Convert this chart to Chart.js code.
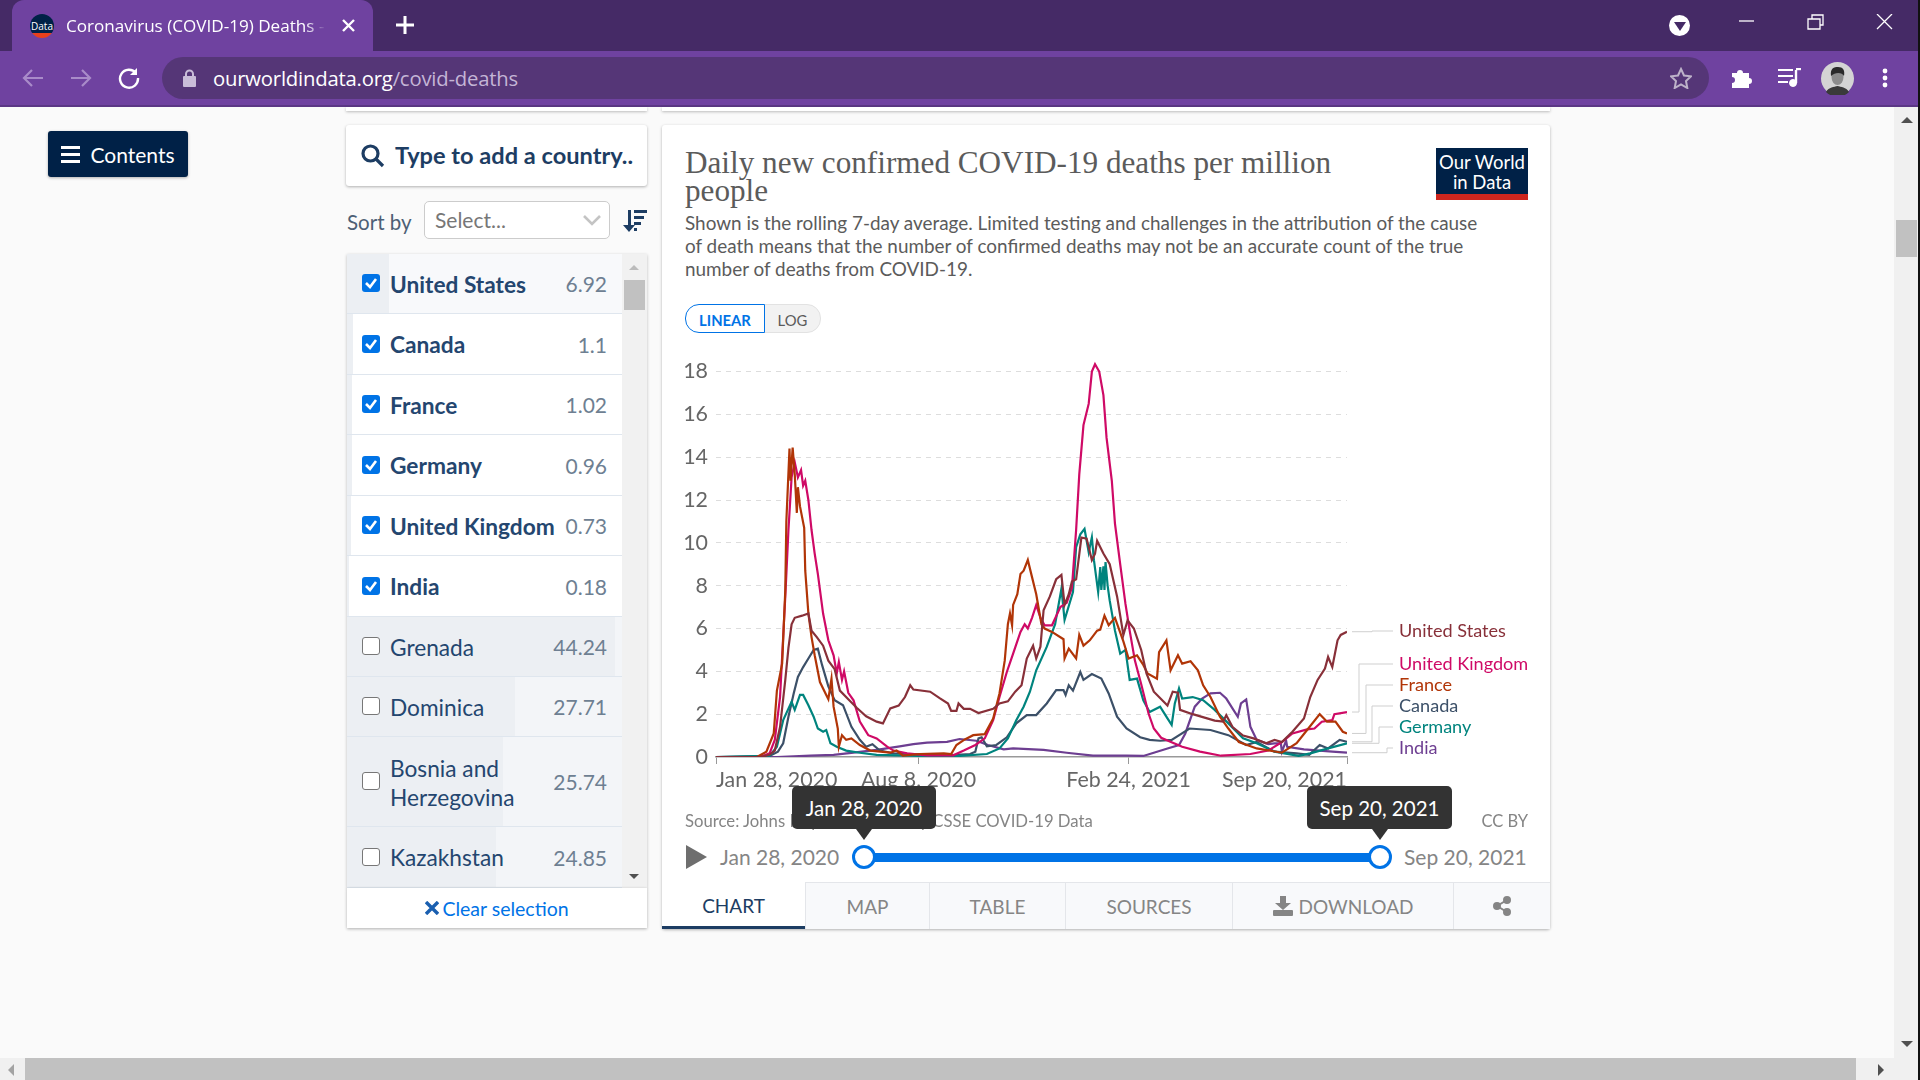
<!DOCTYPE html>
<html lang="en">
<head>
<meta charset="UTF-8">
<title>Daily new confirmed COVID-19 deaths per million people</title>
<script src="https://cdn.jsdelivr.net/npm/chart.js"></script>
<style>
html, body { margin: 0; padding: 0; width: 1920px; height: 1080px; overflow: hidden; background: #fafafa; font-family: Lato, sans-serif; }
.a { position: absolute; white-space: nowrap; }
.ctr { display: flex; align-items: center; justify-content: center; }
.row { position: absolute; left: 347px; width: 275px; border-bottom: 1px solid #dfe6ee; box-sizing: border-box; overflow: hidden; }
.row .bar { position: absolute; left: 0; top: 0; bottom: 0; }
.row .name { position: absolute; left: 43px; font-size: 22.7px; line-height: 29px; color: #24466f; white-space: normal; width: 150px; }
.row .val { position: absolute; right: 15px; font-size: 21px; color: #6e7f92; }
.row .box { position: absolute; left: 15px; width: 18px; height: 18px; border-radius: 3px; box-sizing: border-box; }
.tab { position: absolute; top: 882px; height: 47px; box-sizing: border-box; background: #f8f9fb; border-left: 1px solid #e4e6ea; border-top: 1px solid #e4e6ea; font-size: 19px; color: #858585; display: flex; align-items: center; justify-content: center; gap: 6px; }
.tip { position: absolute; top: 786px; height: 43px; background: #333; border-radius: 5px; color: #fff; font-size: 20.5px; display: flex; align-items: center; justify-content: center; z-index: 5; }
.tip:after { content: ""; position: absolute; bottom: -11px; left: 50%; margin-left: -8px; border-left: 8px solid transparent; border-right: 8px solid transparent; border-top: 11px solid #333; }
.knob { position: absolute; top: 845px; width: 24px; height: 24px; box-sizing: border-box; border-radius: 50%; background: #fff; border: 3px solid #0073e6; z-index: 6; }
</style>
</head>
<body>
<!-- browser window -->
<div class="a" style="left:0;top:0;width:1920px;height:51px;background:#452a66"></div>
<div class="a" style="left:0;top:51px;width:1920px;height:54px;background:#6f42a0"></div>
<div class="a" style="left:0;top:105px;width:1920px;height:2px;background:#5b3785"></div>
<div class="a" style="left:12px;top:0;width:361px;height:51px;background:#6f42a0;border-radius:12px 12px 0 0"></div>
<div class="a ctr" style="left:30px;top:14px;width:24px;height:24px;border-radius:50%;background:linear-gradient(#002147 78%,#e8401c 78%);color:#fff;font-size:10px;font-family:'Open Sans'">Data</div>
<div class="a" style="left:66px;top:14px;width:260px;overflow:hidden;color:#fff;font:17.1px/24px 'Open Sans';-webkit-mask-image:linear-gradient(90deg,#000 92%,transparent 100%)">Coronavirus (COVID-19) Deaths -</div>
<svg class="a" style="left:342px;top:19px" width="13" height="13" stroke="#fff" stroke-width="2.4"><path d="M1 1L12 12M12 1L1 12"/></svg>
<svg class="a" style="left:396px;top:16px" width="18" height="18" stroke="#fff" stroke-width="3"><path d="M9 0V18M0 9H18"/></svg>
<svg class="a" style="left:22px;top:67px" width="70" height="22" fill="none" stroke="#a98bc9" stroke-width="2.2"><path d="M21 11H2M10 3L2 11L10 19"/><path d="M49 11H68M60 3L68 11L60 19"/></svg>
<svg class="a" style="left:118px;top:67px" width="22" height="22" fill="none" stroke="#fff" stroke-width="2.4"><path d="M18 6A9 9 0 1 0 20 11"/><path d="M19 1V8H12" fill="#fff" stroke="none"/></svg>
<div class="a" style="left:162px;top:57px;width:1547px;height:42px;border-radius:21px;background:#553677"></div>
<svg class="a" style="left:183px;top:69px" width="13" height="18" fill="#c9bdd8"><rect y="7" width="13" height="11" rx="1"/><path d="M3 8V5a3.5 3.5 0 0 1 7 0V8" fill="none" stroke="#c9bdd8" stroke-width="2"/></svg>
<div class="a" style="left:213px;top:64px;font:20.3px/28px 'Open Sans';color:#fff;letter-spacing:-.2px">ourworldindata.org<span style="color:#c4b5d6">/covid-deaths</span></div>
<svg class="a" style="left:1670px;top:67px" width="22" height="22" fill="none" stroke="#bdb2c9" stroke-width="2"><path d="M11 2L14 8.5L21 9.3L16 14L17.3 21L11 17.5L4.7 21L6 14L1 9.3L8 8.5Z"/></svg>
<div class="a" style="left:1669px;top:15px;width:21px;height:21px;border-radius:50%;background:#fff"></div>
<div class="a" style="left:1674px;top:22px;border-left:6px solid transparent;border-right:6px solid transparent;border-top:9px solid #452a66"></div>
<svg class="a" style="left:1738px;top:14px" width="160" height="16" fill="none" stroke="#fff" stroke-width="1.3"><path d="M1 7H16"/><path d="M70 5H82V15H70ZM74 5V1H85V11H82"/><path d="M139 0L154 15M154 0L139 15"/></svg>
<svg class="a" style="left:1731px;top:66px" width="22" height="22" fill="#fff"><path d="M1 7H6a3 3 0 1 1 6 0H18V12a3 3 0 1 1 0 6V22H1V17a3 3 0 1 0 0-6Z"/></svg>
<svg class="a" style="left:1778px;top:68px" width="24" height="20" fill="#fff" stroke="#fff"><path d="M0 2H15M0 8H15M0 14H10" stroke-width="2.2"/><path d="M18 2V15" stroke-width="2.4"/><path d="M18 1H23" stroke-width="2.4"/><circle cx="15" cy="15" r="3.5"/></svg>
<svg class="a" style="left:1821px;top:62px" width="33" height="33"><circle cx="16.5" cy="16.5" r="16.5" fill="#d4d4d4"/><path d="M5 30C8 25 13 25 16.5 24C20 25 25 25 28 30A16.5 16.5 0 0 1 5 30Z" fill="#3a3a3a"/><ellipse cx="16.5" cy="15" rx="6" ry="8" fill="#8c8c8c"/><path d="M10 14C9 6 13 5 17 5C22 5 24 8 23 14C21 10 14 10 10 14Z" fill="#2b2b2b"/></svg>
<svg class="a" style="left:1880px;top:68px" width="10" height="20" fill="#fff"><circle cx="5" cy="3" r="2.4"/><circle cx="5" cy="10" r="2.4"/><circle cx="5" cy="17" r="2.4"/></svg>

<!-- page scrollbars -->
<div class="a" style="left:1894px;top:107px;width:24px;height:951px;background:#f0f0f0"></div>
<div class="a" style="left:1896px;top:220px;width:21px;height:37px;background:#c1c1c1"></div>
<div class="a" style="left:1918px;top:0;width:2px;height:1080px;background:#111"></div>
<div class="a" style="left:1901px;top:117px;border-left:6px solid transparent;border-right:6px solid transparent;border-bottom:6px solid #505050"></div>
<div class="a" style="left:1901px;top:1041px;border-left:6px solid transparent;border-right:6px solid transparent;border-top:6px solid #505050"></div>
<div class="a" style="left:0;top:1058px;width:1918px;height:22px;background:#f0f0f0"></div>
<div class="a" style="left:25px;top:1058px;width:1831px;height:22px;background:#c1c1c1"></div>
<div class="a" style="left:8px;top:1064px;border-top:6px solid transparent;border-bottom:6px solid transparent;border-right:6px solid #a3a3a3"></div>
<div class="a" style="left:1878px;top:1064px;border-top:6px solid transparent;border-bottom:6px solid transparent;border-left:6px solid #505050"></div>

<!-- sidebar -->
<div class="a ctr" style="left:48px;top:131px;width:140px;height:46px;background:#002147;color:#fff;font-size:21px;border-radius:3px;box-shadow:0 1px 3px rgba(0,0,0,.3);gap:10px"><svg width="19" height="17" fill="#fff"><rect width="19" height="3"/><rect y="7" width="19" height="3"/><rect y="14" width="19" height="3"/></svg>Contents</div>
<div class="a" style="left:346px;top:107px;width:301px;height:4px;background:#fff;box-shadow:0 1px 3px rgba(0,0,0,.25)"></div>
<div class="a" style="left:662px;top:107px;width:888px;height:4px;background:#fff;box-shadow:0 1px 3px rgba(0,0,0,.25)"></div>
<div class="a" style="left:346px;top:125px;width:301px;height:61px;background:#fff;border-radius:3px;box-shadow:0 1px 3px rgba(0,0,0,.3)"></div>
<svg class="a" style="left:361px;top:144px" width="24" height="24" fill="none" stroke="#1d3d63" stroke-width="3.2"><circle cx="9.5" cy="9.5" r="7.5"/><path d="M15 15L22 22"/></svg>
<div class="a" style="left:395px;top:139px;font-size:23.6px;line-height:32px;font-weight:700;color:#1d3d63">Type to add a country..</div>
<div class="a" style="left:347px;top:209px;font-size:20.5px;line-height:26px;color:#4d5f75">Sort by</div>
<div class="a" style="left:424px;top:201px;width:186px;height:38px;box-sizing:border-box;border:1px solid #ccc;border-radius:5px;background:#fff;font-size:21px;line-height:36px;color:#777;padding-left:10px">Select...</div>
<svg class="a" style="left:583px;top:215px" width="18" height="11" fill="none" stroke="#c4c4c4" stroke-width="2.6"><path d="M1 1L9 9L17 1"/></svg>
<svg class="a" style="left:623px;top:208px" width="25" height="24" fill="#1d3d63"><path d="M5 2V17H0L6 24L12 17H8V2Z"/><rect x="11" y="2" width="13" height="3"/><rect x="11" y="8" width="10" height="3"/><rect x="11" y="14" width="7" height="3"/><rect x="11" y="20" width="3" height="3"/></svg>

<div class="a" style="left:347px;top:254px;width:300px;height:634px;background:#fff;box-shadow:0 1px 3px rgba(0,0,0,.25)"></div>
<div id="rows"></div>
<div class="a" style="left:622px;top:254px;width:25px;height:634px;background:#f1f1f1"></div>
<div class="a" style="left:624px;top:280px;width:21px;height:30px;background:#c1c1c1"></div>
<div class="a" style="left:629px;top:265px;border-left:5px solid transparent;border-right:5px solid transparent;border-bottom:5px solid #bbb"></div>
<div class="a" style="left:629px;top:874px;border-left:5px solid transparent;border-right:5px solid transparent;border-top:5px solid #505050"></div>
<div class="a ctr" style="left:347px;top:888px;width:300px;height:40px;background:#fff;box-shadow:0 1px 3px rgba(0,0,0,.3);font-size:19.5px;color:#0073e6;gap:3px"><svg width="14" height="14" stroke="#1a5fb0" stroke-width="3.4"><path d="M1 1L13 13M13 1L1 13"/></svg>Clear selection</div>

<!-- chart card -->
<div class="a" style="left:662px;top:125px;width:888px;height:804px;background:#fff;border-radius:3px;box-shadow:0 1px 3px rgba(0,0,0,.3)"></div>
<div class="a" style="left:685px;top:149px;font:31.2px/28px 'Liberation Serif',serif;color:#5b5b5b">Daily new confirmed COVID-19 deaths per million<br>people</div>
<div class="a" style="left:685px;top:211px;font-size:18.9px;line-height:23px;color:#5b5b5b">Shown is the rolling 7-day average. Limited testing and challenges in the attribution of the cause<br>of death means that the number of confirmed deaths may not be an accurate count of the true<br>number of deaths from COVID-19.</div>
<div class="a" style="left:1436px;top:148px;width:92px;height:46px;background:#002147;border-bottom:6px solid #ce261e;color:#fff;font-size:18.5px;line-height:20px;text-align:center"><div style="padding-top:4px">Our World<br>in Data</div></div>
<div class="a ctr" style="left:685px;top:304px;width:80px;height:29px;box-sizing:border-box;border:1px solid #0073e6;border-radius:14px 0 0 14px;background:#fff;color:#0073e6;font-size:14.8px;font-weight:700;padding-top:2px;z-index:2">LINEAR</div>
<div class="a ctr" style="left:764px;top:304px;width:57px;height:29px;box-sizing:border-box;border:1px solid #e2e2e2;border-radius:0 14px 14px 0;background:#f2f2f2;color:#5b5b5b;font-size:14.8px;padding-top:2px">LOG</div>

<canvas id="deathsChart" class="a" style="left:670px;top:340px"></canvas>

<div class="a" style="left:685px;top:810px;font-size:16.7px;line-height:22px;color:#858585">Source: Johns Hopkins University CSSE COVID-19 Data</div>
<div class="a" style="right:392px;top:810px;font-size:16.5px;line-height:22px;color:#858585">CC BY</div>
<div class="tip" style="left:792px;width:144px">Jan 28, 2020</div>
<div class="tip" style="left:1307px;width:145px">Sep 20, 2021</div>
<div class="a" style="left:686px;top:845px;border-top:12px solid transparent;border-bottom:12px solid transparent;border-left:21px solid #6e6e6e"></div>
<div class="a" style="left:720px;top:844px;font-size:21px;line-height:26px;color:#858585">Jan 28, 2020</div>
<div class="a" style="left:864px;top:853px;width:516px;height:9px;background:#0073e6"></div>
<div class="knob" style="left:852px"></div>
<div class="knob" style="left:1368px"></div>
<div class="a" style="left:1404px;top:844px;font-size:21px;line-height:26px;color:#858585">Sep 20, 2021</div>

<div class="a ctr" style="left:662px;top:882px;width:143px;height:47px;box-sizing:border-box;background:#fff;border-bottom:3px solid #1d3d63;font-size:19px;color:#1d3d63;padding-top:3px">CHART</div>
<div class="tab" style="left:805px;width:124px">MAP</div>
<div class="tab" style="left:929px;width:136px">TABLE</div>
<div class="tab" style="left:1065px;width:167px">SOURCES</div>
<div class="tab" style="left:1232px;width:221px"><svg width="20" height="20" fill="#858585"><path d="M7 0H13V7H18L10 14L2 7H7Z"/><rect y="14" width="20" height="6" rx="1"/></svg>DOWNLOAD</div>
<div class="tab" style="left:1453px;width:97px"><svg width="18" height="20" fill="#858585" stroke="#858585" stroke-width="2"><circle cx="14" cy="4" r="3"/><circle cx="4" cy="10" r="3"/><circle cx="14" cy="16" r="3"/><path d="M14 4L4 10L14 16" fill="none"/></svg></div>

<script>
// sidebar list
const countryNames = ['United States', 'Canada', 'France', 'Germany', 'United Kingdom', 'India', 'Grenada', 'Dominica', 'Bosnia and Herzegovina', 'Kazakhstan'];
const countryValues = ['6.92', '1.1', '1.02', '0.96', '0.73', '0.18', '44.24', '27.71', '25.74', '24.85'];
const countryBars = [42, 6, 5, 5, 4, 2, 268, 168, 156, 149];
const rowTops = [254, 314, 375, 435, 496, 556, 617, 677, 737, 827, 888];

// chart data
const tickDays = [0, 193, 393, 601];
const tickLabels = ['Jan 28, 2020', 'Aug 8, 2020', 'Feb 24, 2021', 'Sep 20, 2021'];
const yTicks = [0, 2, 4, 6, 8, 10, 12, 14, 16, 18];

const usDays = [0,42,51,56,61,66,69,72,75,82,88,91,96,102,107,113,118,126,134,143,153,159,166,174,180,185,188,204,213,221,224,229,231,236,242,250,264,270,278,285,291,296,302,305,309,312,318,324,329,332,336,339,343,348,353,358,361,363,369,375,382,388,392,398,405,410,417,430,435,440,442,454,475,483,486,492,502,512,524,532,539,549,560,566,573,580,583,587,592,595,601];
const usValues = [0,0,.1,.3,1.4,3.6,5.1,6.2,6.5,6.6,6.7,5.9,5.6,5.2,4.5,4.1,3.1,2.7,2.3,1.9,1.65,1.57,2.27,2.4,2.8,3.35,3.15,3.05,2.75,2.5,2.15,2.15,2.5,2.25,2.25,2.05,2.25,2.5,2.6,3.05,3.35,4.6,5.2,4.6,5.15,6.85,7.5,8.3,8.5,7.1,7.6,8.2,8.3,10.25,10.2,9.2,9.5,10.1,9.5,9,7.5,5.7,6.38,6,5,3.9,3.05,2.4,3.05,3,2.2,2,1.7,1.65,1.95,1.4,1,.87,.64,.8,.7,1.18,1.8,2.8,3.6,4.13,4.67,4.2,5.45,5.7,5.85];

const ukDays = [0,42,51,56,61,66,69,72,75,78,81,83,85,88,91,94,97,102,107,112,115,117,120,122,126,131,137,145,153,163,169,182,201,226,236,247,256,264,270,277,283,290,294,297,301,305,309,313,320,328,334,339,343,346,350,355,358,361,365,369,372,377,380,385,390,394,399,405,412,417,424,444,461,481,509,526,539,549,563,570,577,587,589,601];
const ukValues = [0,0,.17,.8,2.8,7.5,10.6,13.06,13.76,13.06,13.4,12.67,12.9,12,10.6,9.5,8.55,6.7,5.45,4.75,3.9,4.44,3.6,4,3,2.65,1.65,1.02,.87,.48,.3,.17,.08,.08,.3,.56,.87,1.72,2.8,3.97,4.83,5.84,6.2,6,6.5,7.1,6.5,6.15,6.15,7,7.2,7.9,10.6,13.2,15.5,16.5,18,18.34,18,16.9,14.9,12.9,10.9,9,7.15,5.9,4.5,3.4,2.03,1.33,.9,.48,.25,.06,.14,.3,.7,1.1,1.29,1.33,1.65,1.72,2,2.1];

const franceDays = [0,39,48,55,58,63,66,67,70,71,73,75,77,78,80,84,85,88,91,94,99,105,107,110,112,116,117,120,124,129,137,147,166,172,178,194,217,224,229,237,245,256,264,270,275,278,280,282,283,287,290,293,297,301,305,310,313,320,331,332,336,343,346,350,356,363,366,370,374,380,388,393,401,407,411,420,422,429,433,440,444,452,459,464,471,480,488,498,515,539,553,563,575,582,590,597,601];
const franceValues = [0,0,.25,1.1,3.1,4.36,7.8,11,14.4,12.9,14.45,13.2,11.4,12.6,11.7,10.7,8.7,6.7,5.6,4.75,3.5,2.9,2.7,3.66,2.35,1.33,.48,1.02,.8,.87,.56,.3,.2,.3,.06,.14,.17,.14,.56,.82,1.02,1.07,1.8,2.97,4.5,6.2,6.7,6.15,7.1,7.6,8.55,8.7,9.2,8.4,7.6,6.2,6,5.84,5.5,4.6,5.06,4.6,5.7,5.2,5.45,5.9,5.95,6.6,6.15,6.5,5.4,4.6,4.75,4.3,3.9,3.66,4.9,5.45,4.05,4.75,4.36,4.47,4.05,3.35,2.8,1.88,1.33,.7,.4,.2,.64,1.26,2,1.65,1.65,1.18,1.1];

const canadaDays = [0,51,59,64,69,74,78,83,88,93,97,101,107,113,121,129,137,143,149,156,169,185,217,242,247,250,253,258,267,277,286,296,305,315,324,331,333,336,340,347,350,358,367,374,382,391,404,413,423,434,451,471,488,505,515,532,553,565,575,583,594,601];
const canadaValues = [0,.05,.25,.64,1.88,2.97,3.74,4.2,4.6,5,5.06,4.3,3.3,2.65,2.42,1.41,.8,.48,.6,.3,.17,.14,.06,.14,.25,.87,.92,.5,.56,.92,1.57,1.96,1.96,2.5,3.12,3.12,2.9,3.35,3.1,3.97,3.6,3.87,3.66,2.97,1.88,1.33,.92,.8,.76,.8,1.33,1.26,1.02,.56,.7,.25,.17,.1,.56,.4,.8,.71];

const germanyDays = [0,51,58,64,72,75,80,83,88,93,97,102,105,109,115,124,137,153,194,232,258,270,278,286,293,299,305,315,323,329,332,340,343,347,351,355,358,360,364,366,367,369,370,371,373,375,380,385,390,394,401,407,413,423,430,434,437,441,444,454,464,475,488,502,515,532,555,566,583,601];
const germanyValues = [0,.05,.48,1.72,2.58,2.2,2.9,2.9,2.42,1.88,1.33,1.18,1.26,.64,.48,.3,.2,.1,.05,.05,.14,.4,.87,1.72,2.35,3.05,4.05,5.14,6.2,7.86,6.4,7.7,9.8,10.4,10.65,9.56,10.26,9.18,7.7,8.87,7.8,8.9,7.8,9.1,8,7.3,5.9,4.83,5,3.6,3.66,2.65,2.1,2.35,1.8,1.5,2.5,3.2,2.73,2.8,2.65,2.2,1.57,.87,.64,.25,.05,.17,.4,.64];

const indiaDays = [0,58,90,112,131,153,175,188,201,220,232,248,259,274,283,312,334,359,391,407,430,441,447,456,463,471,480,486,497,500,505,509,515,526,532,538,539,543,544,560,587,601];
const indiaValues = [0,0,.06,.1,.2,.33,.5,.6,.67,.71,.84,.76,.56,.36,.4,.33,.2,.06,.06,.05,.4,.56,1.1,2.35,2.73,2.97,3,2.73,1.88,2.5,2.69,1.41,.8,.6,.64,.64,.25,.76,.48,.36,.25,.2];

const seriesNames = ['United States', 'France', 'United Kingdom', 'Germany', 'Canada', 'India'];
const seriesColors = ['#883039', '#b13507', '#cf0a66', '#00847e', '#3c5068', '#6d3e91'];
const seriesDays = [usDays, franceDays, ukDays, germanyDays, canadaDays, indiaDays];
const seriesValues = [usValues, franceValues, ukValues, germanyValues, canadaValues, indiaValues];

// end labels: label centre y and x of the connector's elbow, top to bottom
const endLabels = [
    { series: 0, y: 631, elbow: 1372 },
    { series: 2, y: 664, elbow: 1359 },
    { series: 1, y: 685, elbow: 1366 },
    { series: 4, y: 706, elbow: 1372 },
    { series: 3, y: 727, elbow: 1379 },
    { series: 5, y: 748, elbow: 1387 }
];

rowTops.slice(0, -1).forEach((top, i) => {
    const selected = i < 6;
    const h = rowTops[i + 1] - top;
    const row = document.createElement('div');
    row.className = 'row';
    row.style.top = top + 'px';
    row.style.height = h + 'px';
    row.style.background = i === 0 ? '#f8f9fb' : selected ? '#fff' : '#f3f5f8';
    const twoLines = countryNames[i].length > 15;
    const nameTop = twoLines ? (h - 58) / 2 + 1 : (h - 29) / 2;
    row.innerHTML = `<div class="bar" style="width:${countryBars[i]}px;background:#eceff3"></div>` +
        `<div class="box" style="top:${(h - 18) / 2 - 1}px;${selected ? 'background:#0073e6' : 'background:#fff;border:1px solid #777'}">` +
        (selected ? '<svg width="18" height="18" fill="none" stroke="#fff" stroke-width="2.6"><path d="M4 9L8 13L14 5"/></svg>' : '') + `</div>` +
        `<div class="name" style="top:${nameTop}px;${selected ? 'font-weight:700;width:170px' : ''}">${countryNames[i]}</div>` +
        `<div class="val" style="top:${(h - 26) / 2}px;line-height:26px">${countryValues[i]}</div>`;
    document.getElementById('rows').appendChild(row);
});

// thin connectors and coloured names at the right of the plot
const endLabelPlugin = {
    id: 'endLabelPlugin',
    afterDraw(chart) {
        const ctx = chart.ctx;
        const canvasLeft = 670, canvasTop = 340;
        const y = chart.scales.y;
        ctx.save();
        ctx.font = '18.1px Lato';
        ctx.textBaseline = 'middle';
        endLabels.forEach(l => {
            const vals = seriesValues[l.series];
            const startY = y.getPixelForValue(vals[vals.length - 1]);
            const labelY = l.y - canvasTop;
            ctx.strokeStyle = '#cfcfcf';
            ctx.lineWidth = 1;
            ctx.beginPath();
            ctx.moveTo(1352 - canvasLeft, startY);
            ctx.lineTo(l.elbow - canvasLeft, startY);
            ctx.lineTo(l.elbow - canvasLeft, labelY);
            ctx.lineTo(1393 - canvasLeft, labelY);
            ctx.stroke();
            ctx.fillStyle = seriesColors[l.series];
            ctx.fillText(seriesNames[l.series], 1399 - canvasLeft, labelY);
        });
        ctx.restore();
    }
};

const canvas = document.getElementById('deathsChart');
canvas.width = 870;
canvas.height = 490;
canvas.style.width = '870px';
canvas.style.height = '490px';

new Chart(canvas.getContext('2d'), {
    type: 'line',
    data: {
        datasets: seriesNames.map((name, i) => ({
            label: name,
            data: seriesDays[i].map((d, j) => ({ x: d, y: seriesValues[i][j] })),
            borderColor: seriesColors[i],
            borderWidth: 2.2,
            pointRadius: 0,
            tension: 0,
            fill: false
        }))
    },
    plugins: [endLabelPlugin],
    options: {
        responsive: false,
        animation: false,
        layout: { padding: { left: 0, right: 193, top: 20, bottom: 0 } },
        plugins: { legend: { display: false }, tooltip: { enabled: false } },
        scales: {
            x: {
                type: 'linear',
                min: 0,
                max: 601,
                afterBuildTicks(s) { s.ticks = tickDays.map(v => ({ value: v })); },
                afterFit(s) { s.height = 73; },
                ticks: {
                    autoSkip: false,
                    maxRotation: 0,
                    align: 'inner',
                    padding: 3,
                    color: '#666',
                    font: { family: 'Lato', size: 21.4 },
                    callback(v) { return tickLabels[tickDays.indexOf(v)]; }
                },
                grid: { drawOnChartArea: false, tickLength: 7, color: '#999', lineWidth: 1 },
                border: { color: '#999', width: 1.5 }
            },
            y: {
                min: 0,
                max: 18.5,
                afterBuildTicks(s) { s.ticks = yTicks.map(v => ({ value: v })); },
                afterFit(s) { s.width = 46; },
                ticks: {
                    padding: 8,
                    color: '#666',
                    font: { family: 'Lato', size: 21.4 }
                },
                grid: {
                    drawTicks: false,
                    color: c => (c.tick && c.tick.value === 0 ? 'transparent' : '#dddddd'),
                    lineWidth: 1
                },
                border: { display: false, dash: [5, 5] }
            }
        }
    }
});
</script>
</body>
</html>
